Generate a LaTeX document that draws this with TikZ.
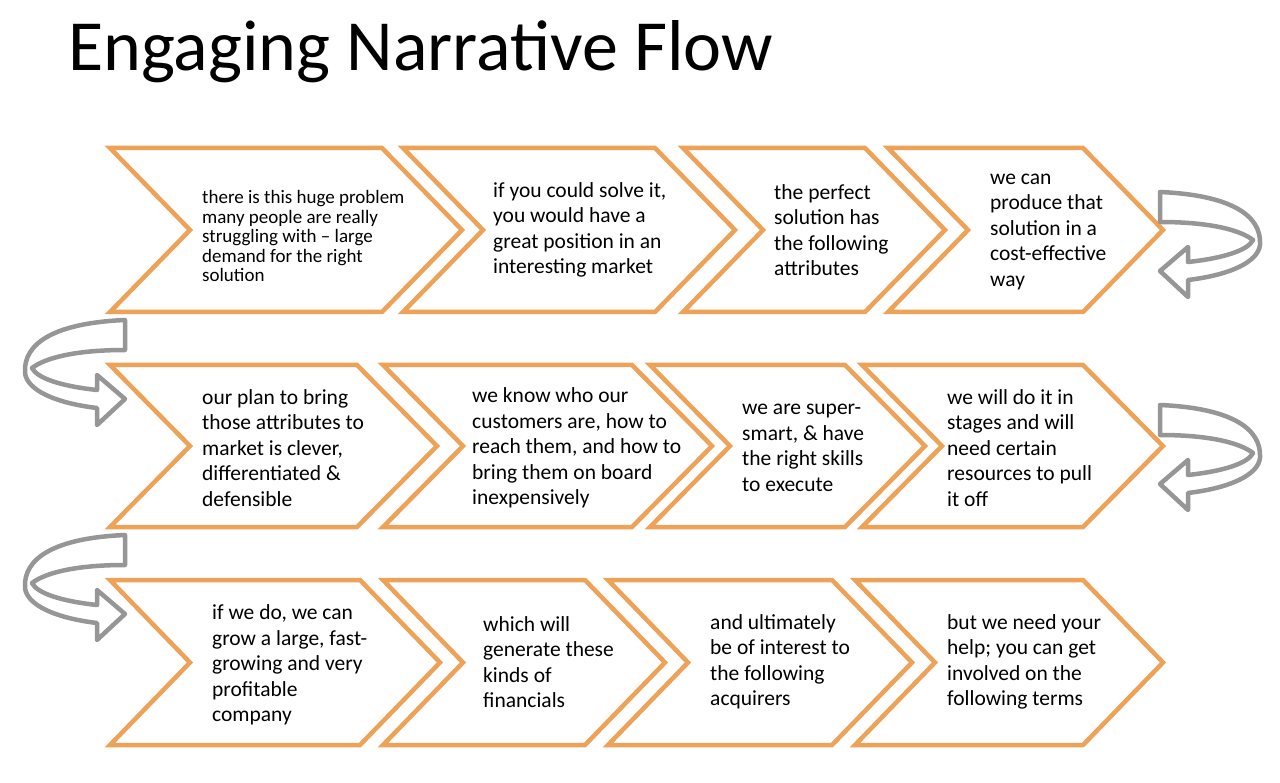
\documentclass[tikz,border=0pt]{standalone}
\usepackage{fontspec}
\setmainfont{Carlito}
\usetikzlibrary{positioning}
\definecolor{chevorange}{RGB}{237,162,88}
\definecolor{turngray}{RGB}{150,150,150}
\tikzset{chev/.style={draw=chevorange, line width=4.5pt, line join=miter},
  txt/.style={anchor=west, align=left, inner sep=0pt, font=\fontsize{21.5}{25.5}\selectfont},
  uturn/.pic={\draw[draw=turngray, line width=4.5pt, fill=white, line join=round]
    (0,0) .. controls (70,-3) and (102,-23) .. (100,-53) .. controls (98,-70) and (70,-83) .. (28,-88)
    -- (28,-105) -- (0,-79) -- (28,-55) -- (28,-70) .. controls (65,-66) and (88,-58) .. (93,-48)
    .. controls (80,-38) and (50,-30) .. (0,-30) -- cycle;}}
\newcommand{\chevron}[4]{% left, right, top, bottom
  \draw[chev] (#1,-#3) -- (#2-80,-#3) -- (#2,{-(#3+#4)/2}) -- (#2-80,-#4) -- (#1,-#4)
    -- (#1+80,{-(#3+#4)/2}) -- cycle;}
\begin{document}
\begin{tikzpicture}[x=1pt, y=1pt]
\useasboundingbox (0,0) rectangle (1280,-783);
\node[anchor=west, inner sep=0pt, font=\fontsize{72}{78}\selectfont] (title) at (68,-52) {Engaging Narrative Flow};
% row 1
\chevron{110}{462}{148}{312}
\chevron{403}{735}{148}{312}
\chevron{683}{945}{148}{312}
\chevron{888}{1163}{148}{312}
% row 2
\chevron{110}{437}{365}{527}
\chevron{383}{712}{365}{527}
\chevron{650}{925}{365}{527}
\chevron{862}{1163}{365}{527}
% row 3
\chevron{110}{440}{580}{745}
\chevron{383}{665}{580}{745}
\chevron{608}{912}{580}{745}
\chevron{855}{1163}{580}{745}
% texts
\node[txt, font=\fontsize{19}{19.5}\selectfont] (problem) at (202,-236) {there is this huge problem\\many people are really\\struggling with -- large\\demand for the right\\solution};
\node[txt] (market) at (493,-230) {if you could solve it,\\you would have a\\great position in an\\interesting market};
\node[txt] (attrs) at (774,-230) {the perfect\\solution has\\the following\\attributes};
\node[txt] (produce) at (990,-232) {we can\\produce that\\solution in a\\cost-effective\\way};
\node[txt] (plan) at (202,-448) {our plan to bring\\those attributes to\\market is clever,\\differentiated \&\\defensible};
\node[txt] (customers) at (472,-448) {we know who our\\customers are, how to\\reach them, and how to\\bring them on board\\inexpensively};
\node[txt] (skills) at (742,-448) {we are super-\\smart, \& have\\the right skills\\to execute};
\node[txt] (stages) at (947,-448) {we will do it in\\stages and will\\need certain\\resources to pull\\it off};
\node[txt] (grow) at (212,-665) {if we do, we can\\grow a large, fast-\\growing and very\\profitable\\company};
\node[txt] (financials) at (483,-662) {which will\\generate these\\kinds of\\financials};
\node[txt] (acquirers) at (710,-662) {and ultimately\\be of interest to\\the following\\acquirers};
\node[txt] (terms) at (947,-662) {but we need your\\help; you can get\\involved on the\\following terms};
% turns
\pic at (1160,-192) {uturn};
\pic[xscale=-1] at (125,-320) {uturn};
\pic at (1160,-405) {uturn};
\pic[xscale=-1] at (125,-535) {uturn};
\end{tikzpicture}
\end{document}
